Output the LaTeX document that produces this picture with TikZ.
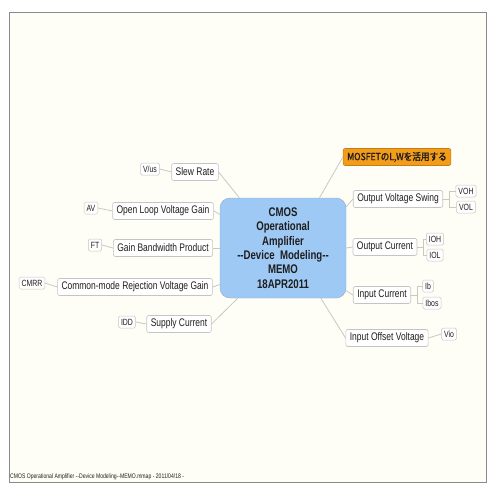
\documentclass[tikz,border=0pt]{standalone}
\usepackage{fontspec}
\setmainfont{Liberation Sans}[FakeStretch=0.77]
\newfontfamily\cjk{Noto Sans CJK JP}[FakeStretch=0.88,FakeBold=1.5]
\usepackage{xcolor}
\usepackage{tikz}
\usetikzlibrary{shapes,positioning}

\definecolor{paper}{HTML}{FFFEF6}
\definecolor{framegray}{HTML}{8A8A8A}
\definecolor{hubblue}{HTML}{9FC9F5}
\definecolor{tagorange}{HTML}{F39C19}
\definecolor{linkgray}{HTML}{C9C9C0}
\definecolor{boxgray}{HTML}{C4C4C4}
\definecolor{ink}{HTML}{1E1E1E}

\tikzset{
    hub/.style={
        fill=hubblue,
        draw=hubblue!85!black,
        line width=0.4pt,
        rounded corners=10pt,
        minimum width=126pt,
        minimum height=100pt,
        align=center,
        text=ink,
        font=\fontsize{12.5}{14.4}\selectfont\bfseries
    },
    topic/.style={
        draw=boxgray,
        fill=white,
        rounded corners=2pt,
        line width=0.6pt,
        minimum height=17pt,
        inner xsep=4pt,
        inner ysep=0pt,
        text=ink,
        font=\fontsize{11}{13}\selectfont
    },
    tag/.style={
        topic,
        draw=tagorange!80!black,
        fill=tagorange
    },
    leaf/.style={
        draw=boxgray,
        fill=white,
        rounded corners=1.5pt,
        line width=0.5pt,
        minimum height=12pt,
        inner xsep=2.5pt,
        inner ysep=0pt,
        text=ink,
        font=\fontsize{9}{10}\selectfont
    },
    link/.style={
        draw=linkgray,
        line width=0.8pt
    }
}

\begin{document}
\begin{tikzpicture}[x=1pt,y=-1pt]
    \useasboundingbox (0,0) rectangle (495,495);

    % sheet
    \draw[
        framegray,
        fill=paper,
        line width=0.8pt
        ] (9,12) rectangle (486,482);
    \node[
        anchor=south west,
        inner sep=0pt,
        text=ink,
        font=\fontsize{6.6}{7}\selectfont
        ] (footer) at (10,480) {CMOS Operational Amplifier -{}-Device Modeling-{}-MEMO.mmap - 2011/04/18 -};

    % central topic
    \node[hub] (hub) at (283,248) {CMOS\\Operational\\Amplifier\\-{}-Device\ \ Modeling-{}-\\MEMO\\18APR2011};

    % left branches
    \node[topic] (slew) at (195,172) {Slew Rate};
    \node[topic] (olgain) at (163,211) {Open Loop Voltage Gain};
    \node[topic] (gbw) at (163,248) {Gain Bandwidth Product};
    \node[topic] (cmrrgain) at (135,287) {Common-mode Rejection Voltage Gain};
    \node[topic] (supply) at (179,324) {Supply Current};

    \node[leaf] (vus) at (150,169) {V/us};
    \node[leaf] (av) at (91,208) {AV};
    \node[leaf] (ft) at (95,245) {FT};
    \node[leaf] (cmrr) at (32,283) {CMRR};
    \node[leaf] (idd) at (127,322) {IDD};

    % right branches
    \node[tag] (mosfet) at (397,157) {\cjk\fontsize{9.8}{11}\selectfont MOSFETのL,Wを活用する};
    \node[topic] (swing) at (398,199) {Output Voltage Swing};
    \node[topic] (outcur) at (385,247) {Output Current};
    \node[topic] (incur) at (382,295) {Input Current};
    \node[topic] (offset) at (387,338) {Input Offset Voltage};

    \node[leaf] (voh) at (466,191) {VOH};
    \node[leaf] (vol) at (466,207) {VOL};
    \node[leaf] (ioh) at (435,239) {IOH};
    \node[leaf] (iol) at (435,255) {IOL};
    \node[leaf] (ib) at (428,286) {Ib};
    \node[leaf] (ibos) at (432,303) {Ibos};
    \node[leaf] (vio) at (449,334) {Vio};

    % links from the centre
    \draw[link] (hub.131) -- (slew.east);
    \draw[link] (hub.152) -- (olgain.east);
    \draw[link] (hub.west) -- (gbw.east);
    \draw[link] (hub.210) -- (cmrrgain.east);
    \draw[link] (hub.228) -- (supply.east);
    \draw[link] (hub.54) -- (mosfet.west);
    \draw[link] (hub.33) -- (swing.west);
    \draw[link] (hub.east) -- (outcur.west);
    \draw[link] (hub.326) -- (incur.west);
    \draw[link] (hub.307) -- (offset.west);

    % links to the leaves
    \draw[link] (slew.west) -- (vus.east);
    \draw[link] (olgain.west) -- (av.east);
    \draw[link] (gbw.west) -- (ft.east);
    \draw[link] (cmrrgain.west) -- (cmrr.east);
    \draw[link] (supply.west) -- (idd.east);
    \draw[link] (swing.east) -- ++(6,0) |- (voh.west);
    \draw[link] (swing.east) -- ++(6,0) |- (vol.west);
    \draw[link] (outcur.east) -- ++(6,0) |- (ioh.west);
    \draw[link] (outcur.east) -- ++(6,0) |- (iol.west);
    \draw[link] (incur.east) -- ++(6,0) |- (ib.west);
    \draw[link] (incur.east) -- ++(6,0) |- (ibos.west);
    \draw[link] (offset.east) -- (vio.west);
\end{tikzpicture}
\end{document}
